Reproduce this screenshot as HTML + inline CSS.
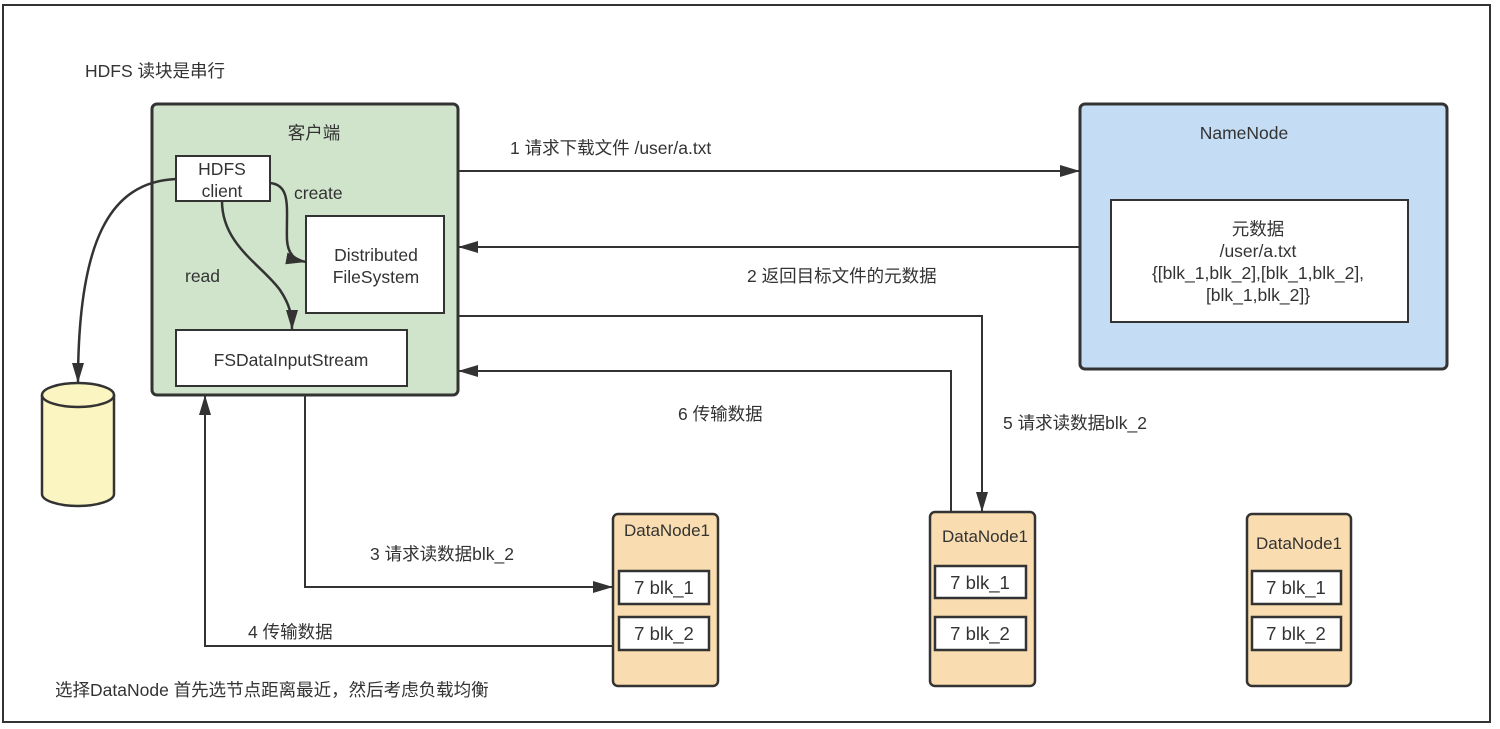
<!DOCTYPE html>
<html><head><meta charset="utf-8"><style>
html,body{margin:0;padding:0;background:#fff;}
svg{display:block;}
text{font-family:"Liberation Sans","Noto Sans CJK SC",sans-serif;font-size:17.5px;fill:#333;}
.dn{font-size:17px;}
.bk{font-size:18.5px;}
</style></head><body>
<svg width="1500" height="729" viewBox="0 0 1500 729" xmlns="http://www.w3.org/2000/svg">
<defs>
<marker id="b" viewBox="0 0 20 12" refX="20" refY="6" markerWidth="20" markerHeight="12" markerUnits="userSpaceOnUse" orient="auto">
<path d="M0,0 L20,6 L0,12 z" fill="#333"/></marker>
</defs>
<rect x="3" y="5" width="1487" height="717" fill="#fff" stroke="#333" stroke-width="2"/>
<text x="85" y="77">HDFS 读块是串行</text>

<rect x="152" y="104" width="306" height="291" rx="5" fill="#cfe4cb" stroke="#333" stroke-width="3"/>
<text x="314" y="139" text-anchor="middle">客户端</text>
<rect x="176" y="156" width="94" height="45" fill="#fff" stroke="#333" stroke-width="2"/>
<text x="222" y="175" text-anchor="middle">HDFS</text>
<text x="222" y="197" text-anchor="middle">client</text>
<rect x="306" y="216" width="138" height="97" fill="#fff" stroke="#333" stroke-width="2"/>
<text x="376" y="261" text-anchor="middle">Distributed</text>
<text x="376" y="283" text-anchor="middle">FileSystem</text>
<rect x="176" y="330" width="231" height="56" fill="#fff" stroke="#333" stroke-width="2"/>
<text x="291" y="366" text-anchor="middle">FSDataInputStream</text>
<text x="294" y="199">create</text>
<text x="185" y="282">read</text>

<path d="M176,179 C110,182 78,240 78,383" fill="none" stroke="#333" stroke-width="2.5" marker-end="url(#b)"/>
<path d="M270,183 C292,185 286,210 287,240 C288,255 295,260 306,262" fill="none" stroke="#333" stroke-width="2.5" marker-end="url(#b)"/>
<path d="M222,201 C222,245 262,265 280,290 C290,305 292,315 292,330" fill="none" stroke="#333" stroke-width="2.5" marker-end="url(#b)"/>

<path d="M42,395 L42,494 A36,12 0 0 0 114,494 L114,395" fill="#fbf5c2" stroke="#333" stroke-width="2.5"/>
<ellipse cx="78" cy="395" rx="36" ry="12" fill="#fbf5c2" stroke="#333" stroke-width="2.5"/>

<rect x="1080" y="104" width="367" height="265" rx="5" fill="#c5dcf5" stroke="#333" stroke-width="3"/>
<text x="1244" y="139" text-anchor="middle">NameNode</text>
<rect x="1111" y="200" width="297" height="122" fill="#fff" stroke="#333" stroke-width="2"/>
<text x="1258" y="235" text-anchor="middle">元数据</text>
<text x="1258" y="257" text-anchor="middle">/user/a.txt</text>
<text x="1258" y="279" text-anchor="middle">{[blk_1,blk_2],[blk_1,blk_2],</text>
<text x="1258" y="301" text-anchor="middle">[blk_1,blk_2]}</text>

<line x1="458" y1="171" x2="1080" y2="171" stroke="#333" stroke-width="2" marker-end="url(#b)"/>
<text x="510" y="154">1 请求下载文件 /user/a.txt</text>
<line x1="1080" y1="247" x2="458" y2="247" stroke="#333" stroke-width="2" marker-end="url(#b)"/>
<text x="747" y="282">2 返回目标文件的元数据</text>
<polyline points="458,316 982,316 982,512" fill="none" stroke="#333" stroke-width="2" marker-end="url(#b)"/>
<text x="1003" y="429">5 请求读数据blk_2</text>
<polyline points="951,512 951,371 458,371" fill="none" stroke="#333" stroke-width="2" marker-end="url(#b)"/>
<text x="678" y="420">6 传输数据</text>
<polyline points="305,395 305,587 613,587" fill="none" stroke="#333" stroke-width="2" marker-end="url(#b)"/>
<text x="370" y="560">3 请求读数据blk_2</text>
<polyline points="613,646 205,646 205,395" fill="none" stroke="#333" stroke-width="2" marker-end="url(#b)"/>
<text x="248" y="638">4 传输数据</text>

<g stroke="#333" stroke-width="2.5">
<rect x="613" y="514" width="105" height="172" rx="5" fill="#f9ddb0"/>
<rect x="930" y="512" width="105" height="174" rx="5" fill="#f9ddb0"/>
<rect x="1247" y="514" width="104" height="172" rx="5" fill="#f9ddb0"/>
<rect x="619" y="571" width="90" height="33" fill="#fff"/>
<rect x="619" y="617" width="90" height="33" fill="#fff"/>
<rect x="935" y="566" width="91" height="32" fill="#fff"/>
<rect x="935" y="617" width="91" height="33" fill="#fff"/>
<rect x="1252" y="571" width="89" height="33" fill="#fff"/>
<rect x="1252" y="617" width="89" height="33" fill="#fff"/>
</g>
<text class="dn" x="667" y="536" text-anchor="middle">DataNode1</text>
<text class="dn" x="985" y="542" text-anchor="middle">DataNode1</text>
<text class="dn" x="1299" y="549" text-anchor="middle">DataNode1</text>
<text class="bk" x="664" y="594" text-anchor="middle">7 blk_1</text>
<text class="bk" x="664" y="640" text-anchor="middle">7 blk_2</text>
<text class="bk" x="980" y="589" text-anchor="middle">7 blk_1</text>
<text class="bk" x="980" y="640" text-anchor="middle">7 blk_2</text>
<text class="bk" x="1296" y="594" text-anchor="middle">7 blk_1</text>
<text class="bk" x="1296" y="640" text-anchor="middle">7 blk_2</text>

<text x="55" y="696">选择DataNode 首先选节点距离最近，然后考虑负载均衡</text>
</svg>
</body></html>
